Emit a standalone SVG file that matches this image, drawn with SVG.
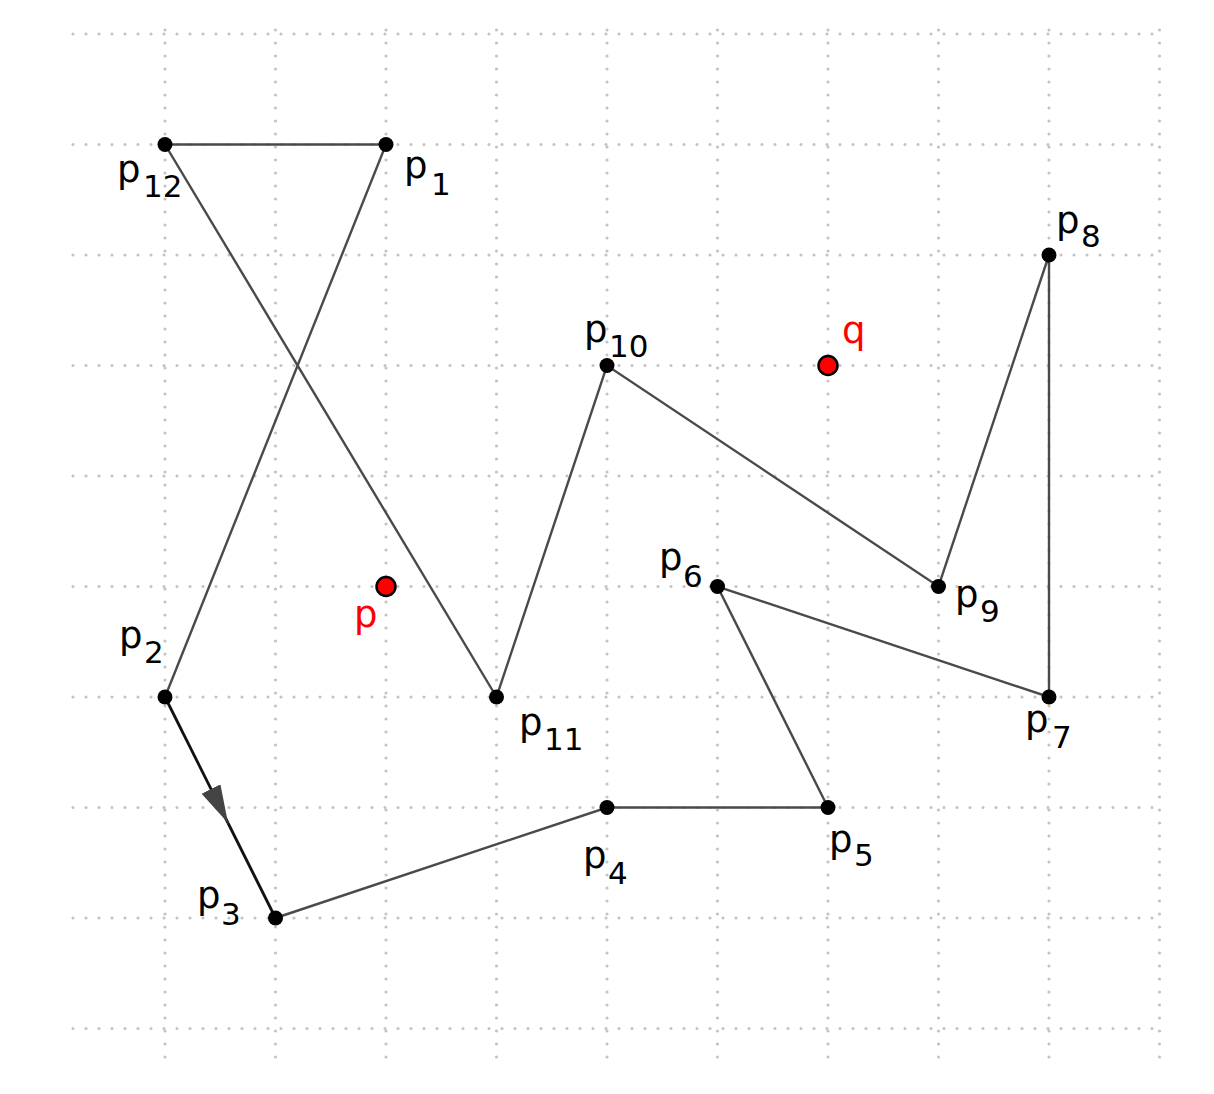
<svg xmlns="http://www.w3.org/2000/svg" width="1214" height="1094" viewBox="0 0 1214 1094">
<defs>
<style>
.grid line{stroke:#c4c4c4;stroke-width:3.2;stroke-linecap:round;stroke-dasharray:0 13}
.edge{stroke:#4a4a4a;stroke-width:2.4;fill:none}
.dir{stroke:#111;stroke-width:2.8;fill:none}
.pt{fill:#000}
.red{fill:#ff0000;stroke:#000;stroke-width:2.5}
.lbl{font-family:"DejaVu Sans",sans-serif;font-size:37px;fill:#000}
.sub{font-family:"DejaVu Sans",sans-serif;font-size:31px;fill:#000}
.rl{font-family:"DejaVu Sans",sans-serif;font-size:37px;fill:#ff0000}
</style>
<marker id="arr" markerUnits="userSpaceOnUse" markerWidth="40" markerHeight="22" refX="38" refY="10.5" orient="auto" viewBox="0 0 40 22">
<path d="M0,0 L38,10.5 L0,21 z" fill="#444"/>
</marker>
</defs>
<rect width="1214" height="1094" fill="#fff"/>
<g class="grid">
<line x1="73" y1="34" x2="1160" y2="34"/>
<line x1="73" y1="144.5" x2="1160" y2="144.5"/>
<line x1="73" y1="255" x2="1160" y2="255"/>
<line x1="73" y1="365.5" x2="1160" y2="365.5"/>
<line x1="73" y1="476" x2="1160" y2="476"/>
<line x1="73" y1="586.5" x2="1160" y2="586.5"/>
<line x1="73" y1="697" x2="1160" y2="697"/>
<line x1="73" y1="807.5" x2="1160" y2="807.5"/>
<line x1="73" y1="918" x2="1160" y2="918"/>
<line x1="73" y1="1028.5" x2="1160" y2="1028.5"/>
<line x1="165" y1="30" x2="165" y2="1066"/>
<line x1="275.5" y1="30" x2="275.5" y2="1066"/>
<line x1="386" y1="30" x2="386" y2="1066"/>
<line x1="496.5" y1="30" x2="496.5" y2="1066"/>
<line x1="607" y1="30" x2="607" y2="1066"/>
<line x1="717.5" y1="30" x2="717.5" y2="1066"/>
<line x1="828" y1="30" x2="828" y2="1066"/>
<line x1="938.5" y1="30" x2="938.5" y2="1066"/>
<line x1="1049" y1="30" x2="1049" y2="1066"/>
<line x1="1159.5" y1="30" x2="1159.5" y2="1066"/>
</g>
<g id="connectors">
<path class="edge" d="M275.5,918 L607,807.5 L828,807.5 L717.5,586.5 L1049,697 L1049,255 L938.5,586.5 L607,365.5 L496.5,697 L165,144.5 L386,144.5 L165,697"/>
<line class="dir" x1="165" y1="697" x2="228" y2="823" marker-end="url(#arr)"/>
<line class="dir" x1="228" y1="823" x2="275.5" y2="918"/>
</g>
<g id="p1"><circle class="pt" cx="386" cy="144.5" r="7.5"/><text class="lbl" x="404" y="178">p</text><text class="sub" x="431" y="195">1</text></g>
<g id="p2"><circle class="pt" cx="165" cy="697" r="7.5"/><text class="lbl" x="119" y="648">p</text><text class="sub" x="144" y="663">2</text></g>
<g id="p3"><circle class="pt" cx="275.5" cy="918" r="7.5"/><text class="lbl" x="197" y="908">p</text><text class="sub" x="221" y="925">3</text></g>
<g id="p4"><circle class="pt" cx="607" cy="807.5" r="7.5"/><text class="lbl" x="583" y="868">p</text><text class="sub" x="608" y="884">4</text></g>
<g id="p5"><circle class="pt" cx="828" cy="807.5" r="7.5"/><text class="lbl" x="829" y="852">p</text><text class="sub" x="854" y="866">5</text></g>
<g id="p6"><circle class="pt" cx="717.5" cy="586.5" r="7.5"/><text class="lbl" x="659" y="570">p</text><text class="sub" x="683" y="587">6</text></g>
<g id="p7"><circle class="pt" cx="1049" cy="697" r="7.5"/><text class="lbl" x="1025" y="732">p</text><text class="sub" x="1052" y="748">7</text></g>
<g id="p8"><circle class="pt" cx="1049" cy="255" r="7.5"/><text class="lbl" x="1056" y="233">p</text><text class="sub" x="1081" y="247">8</text></g>
<g id="p9"><circle class="pt" cx="938.5" cy="586.5" r="7.5"/><text class="lbl" x="955" y="607">p</text><text class="sub" x="980" y="622">9</text></g>
<g id="p10"><circle class="pt" cx="607" cy="365.5" r="7.5"/><text class="lbl" x="584" y="342">p</text><text class="sub" x="609" y="357">10</text></g>
<g id="p11"><circle class="pt" cx="496.5" cy="697" r="7.5"/><text class="lbl" x="519" y="735">p</text><text class="sub" x="544" y="750">11</text></g>
<g id="p12"><circle class="pt" cx="165" cy="144.5" r="7.5"/><text class="lbl" x="117" y="182">p</text><text class="sub" x="143" y="197">12</text></g>
<g id="p"><circle class="red" cx="386" cy="586.5" r="9.5"/><text class="rl" x="354" y="627">p</text></g>
<g id="q"><circle class="red" cx="828" cy="365.5" r="9.5"/><text class="rl" x="842" y="343">q</text></g>
</svg>
